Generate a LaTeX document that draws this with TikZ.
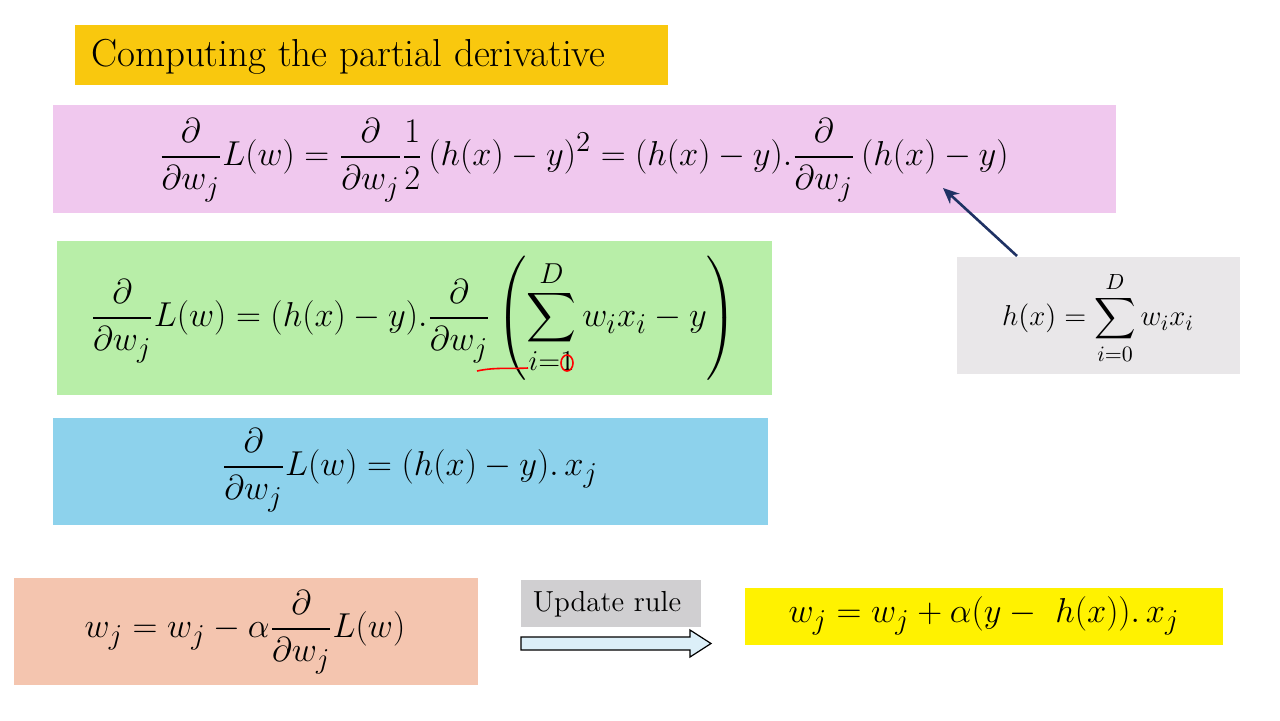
\documentclass[tikz,border=0pt]{standalone}
\usepackage{amsmath}
\usetikzlibrary{arrows.meta}
\definecolor{torange}{HTML}{F9C80E}
\definecolor{tpink}{HTML}{F0C8EE}
\definecolor{tgreen}{HTML}{B8EEA8}
\definecolor{tgray}{HTML}{E9E7E9}
\definecolor{tblue}{HTML}{8DD2EC}
\definecolor{tsalmon}{HTML}{F4C5AF}
\definecolor{tug}{HTML}{D0CFD1}
\definecolor{tarrow}{HTML}{DCEFF8}
\definecolor{tnavy}{HTML}{1F3264}
\tikzset{
  eq/.style={font=\fontsize{19}{22}\selectfont},
}
\begin{document}
\begin{tikzpicture}[x=0.5pt,y=-0.5pt]
\useasboundingbox (0,0) rectangle (1280,720);
\fill[white] (0,0) rectangle (1280,720);
% boxes
\fill[torange] (75,25) rectangle (668,85);
\fill[tpink] (53,105) rectangle (1116,213);
\fill[tgreen] (57,241) rectangle (772,395);
\fill[tgray] (957,257) rectangle (1240,374);
\fill[tblue] (53,418) rectangle (768,525);
\fill[tsalmon] (14,578) rectangle (478,685);
\fill[tug] (521,580) rectangle (701,627);
\fill[yellow] (745,588) rectangle (1223,645);
\node[anchor=west,font=\fontsize{19.5}{22}\selectfont] (title) at (84,57) {Computing the partial derivative};
\node[eq] (e1) at (584,160) {$\displaystyle \frac{\partial}{\partial w_j}L(w)=\frac{\partial}{\partial w_j}\frac{1}{2}\,(h(x)-y)^2=(h(x)-y).\frac{\partial}{\partial w_j}\,(h(x)-y)$};
\node[eq] (e2) at (414,318) {$\displaystyle \frac{\partial}{\partial w_j}L(w)=(h(x)-y).\frac{\partial}{\partial w_j}\left(\sum_{i=1}^{D}w_ix_i-y\right)$};
\node[font=\fontsize{15}{18}\selectfont] (h) at (1098,318) {$\displaystyle h(x)=\sum_{i=0}^{D}w_ix_i$};
\node[eq] (e3) at (410,470) {$\displaystyle \frac{\partial}{\partial w_j}L(w)=(h(x)-y).\,x_j$};
\node[eq] (e4) at (245,632) {$\displaystyle w_j=w_j-\alpha\frac{\partial}{\partial w_j}L(w)$};
\node[font=\fontsize{14.5}{17}\selectfont] (ur) at (607,604) {Update rule};
\node[eq] (e5) at (984,616) {$w_j=w_j+\alpha(y-\ h(x)).\,x_j$};
\draw[fill=tarrow,line width=0.6pt] (521,637) -- (690,637) -- (690,630) -- (711,643.5) -- (690,657) -- (690,650) -- (521,650) -- cycle;
\coordinate (atail) at (1017,256);
\coordinate (ahead) at (943,188);
\draw[tnavy,line width=1.3pt,-{Stealth[length=8pt,width=7pt]}] (atail) -- (ahead);
% red marks
\draw[red,line width=0.8pt] (477,371) .. controls (495,367) and (510,369) .. (528,368);
\draw[red,line width=0.8pt] (567,363) ellipse (6 and 8);
\end{tikzpicture}
\end{document}
